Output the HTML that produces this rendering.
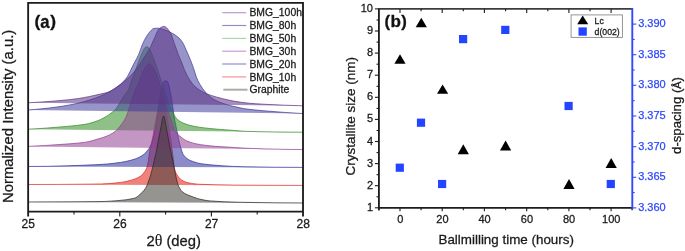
<!DOCTYPE html>
<html lang="en">
<head>
<meta charset="utf-8">
<title>XRD patterns and crystallite size</title>
<style>html,body{margin:0;padding:0;background:#fff;}body{width:685px;height:251px;overflow:hidden;position:relative;font-family:"Liberation Sans",Arial,sans-serif;}</style>
</head>
<body>
<svg width="685" height="251" viewBox="0 0 685 251" style="position:absolute;left:0;top:0;display:block" font-family="'Liberation Sans', Arial, sans-serif">
<rect x="0" y="0" width="685" height="251" fill="#ffffff"/>
<clipPath id="cl"><rect x="28.15" y="2.8" width="274.85" height="208.8"/></clipPath>
<g clip-path="url(#cl)" stroke-linejoin="round">
<path d="M28.30,184.50 L57.30,184.43 L84.80,184.20 L101.30,183.97 L108.80,183.59 L114.30,183.11 L120.80,182.40 L123.80,181.92 L126.80,181.30 L131.30,180.14 L134.80,179.02 L137.80,177.72 L140.30,176.31 L141.80,175.11 L142.80,174.08 L143.80,172.86 L144.80,171.45 L145.80,169.83 L146.30,168.82 L146.80,167.58 L147.60,165.00 L148.30,161.11 L149.60,152.00 L150.30,148.43 L152.80,137.00 L157.30,112.53 L158.20,108.00 L159.30,102.90 L159.80,101.02 L160.20,100.00 L160.80,98.92 L161.30,98.32 L161.60,98.20 L161.80,98.25 L162.30,98.78 L162.80,99.63 L163.30,100.67 L163.80,102.22 L165.80,110.63 L167.80,120.88 L169.30,129.86 L170.80,140.00 L173.00,157.00 L173.80,164.43 L174.40,168.60 L175.30,171.53 L175.80,172.70 L176.80,174.50 L178.30,176.71 L179.30,177.95 L180.80,179.44 L181.80,180.18 L183.30,181.01 L184.80,181.72 L186.30,182.29 L188.30,182.85 L191.30,183.40 L194.30,183.83 L197.30,184.14 L199.80,184.29 L215.80,184.80 L234.30,185.11 L268.80,185.32 L303.00,185.40 Z" fill="rgba(228,28,19,0.55)" stroke="none"/>
<path d="M28.30,184.50 L57.30,184.43 L84.80,184.20 L101.30,183.97 L108.80,183.59 L114.30,183.11 L120.80,182.40 L123.80,181.92 L126.80,181.30 L131.30,180.14 L134.80,179.02 L137.80,177.72 L140.30,176.31 L141.80,175.11 L142.80,174.08 L143.80,172.86 L144.80,171.45 L145.80,169.83 L146.30,168.82 L146.80,167.58 L147.60,165.00 L148.30,161.11 L149.60,152.00 L150.30,148.43 L152.80,137.00 L157.30,112.53 L158.20,108.00 L159.30,102.90 L159.80,101.02 L160.20,100.00 L160.80,98.92 L161.30,98.32 L161.60,98.20 L161.80,98.25 L162.30,98.78 L162.80,99.63 L163.30,100.67 L163.80,102.22 L165.80,110.63 L167.80,120.88 L169.30,129.86 L170.80,140.00 L173.00,157.00 L173.80,164.43 L174.40,168.60 L175.30,171.53 L175.80,172.70 L176.80,174.50 L178.30,176.71 L179.30,177.95 L180.80,179.44 L181.80,180.18 L183.30,181.01 L184.80,181.72 L186.30,182.29 L188.30,182.85 L191.30,183.40 L194.30,183.83 L197.30,184.14 L199.80,184.29 L215.80,184.80 L234.30,185.11 L268.80,185.32 L303.00,185.40" fill="none" stroke="#e02820" stroke-width="0.9" stroke-opacity="0.8"/>
<path d="M28.30,166.50 L47.30,166.33 L67.80,165.82 L81.30,165.33 L95.30,164.72 L102.30,164.37 L107.80,163.95 L113.80,163.31 L120.30,162.46 L124.30,161.78 L127.80,161.03 L131.80,159.99 L135.80,158.73 L138.80,157.48 L141.30,156.12 L143.00,155.00 L144.30,153.99 L145.80,152.58 L147.30,150.87 L148.80,148.80 L149.80,147.19 L151.00,145.00 L151.80,143.05 L152.80,139.75 L154.00,135.00 L155.30,128.58 L156.80,119.81 L158.30,110.20 L160.30,95.00 L161.30,89.37 L162.30,85.04 L162.80,83.28 L163.20,82.30 L163.80,81.28 L164.20,81.00 L167.00,81.00 L167.30,81.16 L167.80,81.92 L168.30,83.05 L168.80,84.90 L170.30,91.78 L171.30,97.38 L173.80,114.50 L174.80,120.65 L178.80,139.89 L180.00,145.00 L181.80,151.15 L182.80,153.78 L183.30,154.72 L184.30,155.97 L185.80,157.52 L186.80,158.37 L188.30,159.42 L189.30,159.99 L190.80,160.71 L193.80,161.85 L197.30,162.91 L200.30,163.59 L202.80,163.98 L209.80,164.75 L222.30,165.82 L233.30,166.44 L244.30,166.79 L275.30,167.25 L303.00,167.40 Z" fill="rgba(46,46,155,0.55)" stroke="none"/>
<path d="M28.30,166.50 L47.30,166.33 L67.80,165.82 L81.30,165.33 L95.30,164.72 L102.30,164.37 L107.80,163.95 L113.80,163.31 L120.30,162.46 L124.30,161.78 L127.80,161.03 L131.80,159.99 L135.80,158.73 L138.80,157.48 L141.30,156.12 L143.00,155.00 L144.30,153.99 L145.80,152.58 L147.30,150.87 L148.80,148.80 L149.80,147.19 L151.00,145.00 L151.80,143.05 L152.80,139.75 L154.00,135.00 L155.30,128.58 L156.80,119.81 L158.30,110.20 L160.30,95.00 L161.30,89.37 L162.30,85.04 L162.80,83.28 L163.20,82.30 L163.80,81.28 L164.20,81.00 L167.00,81.00 L167.30,81.16 L167.80,81.92 L168.30,83.05 L168.80,84.90 L170.30,91.78 L171.30,97.38 L173.80,114.50 L174.80,120.65 L178.80,139.89 L180.00,145.00 L181.80,151.15 L182.80,153.78 L183.30,154.72 L184.30,155.97 L185.80,157.52 L186.80,158.37 L188.30,159.42 L189.30,159.99 L190.80,160.71 L193.80,161.85 L197.30,162.91 L200.30,163.59 L202.80,163.98 L209.80,164.75 L222.30,165.82 L233.30,166.44 L244.30,166.79 L275.30,167.25 L303.00,167.40" fill="none" stroke="#2e2e9b" stroke-width="0.9" stroke-opacity="0.8"/>
<path d="M28.30,129.19 L36.30,128.76 L45.30,128.16 L66.30,126.47 L76.80,125.43 L81.30,124.86 L85.30,124.25 L88.30,123.64 L91.30,122.86 L94.80,121.76 L98.30,120.50 L100.80,119.40 L103.30,118.12 L106.30,116.42 L108.30,115.16 L114.30,110.64 L115.00,110.00 L115.80,109.07 L116.80,107.63 L124.80,94.85 L127.30,91.52 L128.30,89.96 L128.80,89.00 L129.30,87.72 L130.80,82.62 L132.30,78.31 L136.00,68.70 L138.30,62.30 L140.80,56.04 L143.30,50.48 L144.30,48.53 L144.70,48.00 L145.80,46.90 L146.30,46.59 L146.70,46.50 L147.30,46.69 L147.80,47.08 L148.80,48.11 L149.30,48.81 L150.30,50.72 L151.80,54.01 L153.30,57.70 L156.80,67.44 L160.70,79.50 L165.00,92.00 L168.30,102.10 L169.80,106.02 L171.30,109.56 L172.30,111.67 L173.80,114.42 L175.30,116.89 L176.30,118.24 L177.30,119.28 L178.80,120.54 L179.80,121.26 L181.30,122.18 L183.80,123.33 L187.30,124.60 L190.80,125.60 L194.30,126.37 L198.80,127.13 L204.30,127.88 L210.30,128.55 L218.30,129.29 L234.30,130.45 L241.80,131.12 L244.80,131.29 L259.30,131.69 L273.80,131.97 L288.30,132.14 L303.00,132.20 Z" fill="rgba(50,140,37,0.55)" stroke="none"/>
<path d="M28.30,129.19 L36.30,128.76 L45.30,128.16 L66.30,126.47 L76.80,125.43 L81.30,124.86 L85.30,124.25 L88.30,123.64 L91.30,122.86 L94.80,121.76 L98.30,120.50 L100.80,119.40 L103.30,118.12 L106.30,116.42 L108.30,115.16 L114.30,110.64 L115.00,110.00 L115.80,109.07 L116.80,107.63 L124.80,94.85 L127.30,91.52 L128.30,89.96 L128.80,89.00 L129.30,87.72 L130.80,82.62 L132.30,78.31 L136.00,68.70 L138.30,62.30 L140.80,56.04 L143.30,50.48 L144.30,48.53 L144.70,48.00 L145.80,46.90 L146.30,46.59 L146.70,46.50 L147.30,46.69 L147.80,47.08 L148.80,48.11 L149.30,48.81 L150.30,50.72 L151.80,54.01 L153.30,57.70 L156.80,67.44 L160.70,79.50 L165.00,92.00 L168.30,102.10 L169.80,106.02 L171.30,109.56 L172.30,111.67 L173.80,114.42 L175.30,116.89 L176.30,118.24 L177.30,119.28 L178.80,120.54 L179.80,121.26 L181.30,122.18 L183.80,123.33 L187.30,124.60 L190.80,125.60 L194.30,126.37 L198.80,127.13 L204.30,127.88 L210.30,128.55 L218.30,129.29 L234.30,130.45 L241.80,131.12 L244.80,131.29 L259.30,131.69 L273.80,131.97 L288.30,132.14 L303.00,132.20" fill="none" stroke="#328c25" stroke-width="0.9" stroke-opacity="0.8"/>
<path d="M28.30,146.39 L45.80,145.45 L69.30,143.85 L78.30,143.09 L85.80,142.18 L88.80,141.58 L91.80,140.80 L100.30,138.34 L103.80,137.22 L106.80,136.08 L109.30,134.96 L111.80,133.63 L113.80,132.36 L115.30,131.27 L116.80,129.93 L118.30,128.33 L119.80,126.54 L121.80,123.93 L123.30,121.78 L124.80,119.32 L125.80,117.45 L126.80,115.32 L127.80,112.59 L130.30,104.60 L134.30,92.84 L135.80,89.07 L139.20,81.50 L142.30,73.14 L143.80,69.91 L145.30,67.25 L146.80,65.45 L147.80,64.45 L148.30,64.09 L148.80,63.86 L149.20,63.80 L149.80,63.92 L150.80,64.56 L151.80,65.54 L152.80,66.73 L153.80,68.64 L156.30,74.51 L157.80,78.57 L159.80,84.42 L165.80,104.18 L168.30,112.02 L173.30,126.86 L174.30,129.37 L174.80,130.34 L175.80,131.84 L176.80,133.12 L178.30,134.73 L179.80,136.09 L182.30,138.11 L183.80,139.20 L185.30,140.15 L187.00,141.00 L190.30,142.26 L193.30,143.16 L196.30,143.86 L200.80,144.65 L205.30,145.30 L210.30,145.87 L215.80,146.36 L234.30,147.46 L243.30,148.12 L251.80,148.45 L266.30,148.93 L279.30,149.25 L291.30,149.44 L303.00,149.50 Z" fill="rgba(146,64,146,0.55)" stroke="none"/>
<path d="M28.30,146.39 L45.80,145.45 L69.30,143.85 L78.30,143.09 L85.80,142.18 L88.80,141.58 L91.80,140.80 L100.30,138.34 L103.80,137.22 L106.80,136.08 L109.30,134.96 L111.80,133.63 L113.80,132.36 L115.30,131.27 L116.80,129.93 L118.30,128.33 L119.80,126.54 L121.80,123.93 L123.30,121.78 L124.80,119.32 L125.80,117.45 L126.80,115.32 L127.80,112.59 L130.30,104.60 L134.30,92.84 L135.80,89.07 L139.20,81.50 L142.30,73.14 L143.80,69.91 L145.30,67.25 L146.80,65.45 L147.80,64.45 L148.30,64.09 L148.80,63.86 L149.20,63.80 L149.80,63.92 L150.80,64.56 L151.80,65.54 L152.80,66.73 L153.80,68.64 L156.30,74.51 L157.80,78.57 L159.80,84.42 L165.80,104.18 L168.30,112.02 L173.30,126.86 L174.30,129.37 L174.80,130.34 L175.80,131.84 L176.80,133.12 L178.30,134.73 L179.80,136.09 L182.30,138.11 L183.80,139.20 L185.30,140.15 L187.00,141.00 L190.30,142.26 L193.30,143.16 L196.30,143.86 L200.80,144.65 L205.30,145.30 L210.30,145.87 L215.80,146.36 L234.30,147.46 L243.30,148.12 L251.80,148.45 L266.30,148.93 L279.30,149.25 L291.30,149.44 L303.00,149.50" fill="none" stroke="#924092" stroke-width="0.9" stroke-opacity="0.8"/>
<path d="M28.30,109.98 L34.80,109.48 L41.30,108.87 L49.30,107.98 L56.30,107.10 L62.30,106.22 L68.30,105.20 L74.30,104.05 L78.80,103.05 L83.80,101.76 L88.80,100.29 L93.80,98.62 L99.30,96.58 L102.80,95.12 L106.30,93.44 L109.80,91.54 L112.80,89.73 L115.30,88.08 L117.80,86.31 L119.80,84.75 L121.30,83.46 L123.30,81.54 L124.80,79.92 L126.40,78.00 L127.30,76.70 L128.30,74.96 L130.10,71.50 L133.30,64.80 L136.80,58.30 L138.30,55.29 L139.30,53.01 L141.80,46.00 L143.30,42.50 L144.30,40.38 L146.30,36.76 L148.30,33.71 L149.30,32.44 L151.30,30.17 L152.30,29.21 L152.80,28.85 L153.30,28.60 L153.80,28.49 L155.80,28.28 L158.00,28.20 L158.80,28.25 L160.30,28.55 L162.80,29.21 L164.80,29.86 L167.80,31.07 L172.30,33.33 L175.30,35.12 L177.80,36.94 L179.80,38.80 L181.30,40.59 L182.80,42.78 L183.80,44.67 L188.30,54.79 L190.80,60.90 L192.80,66.13 L193.80,68.98 L196.30,76.86 L197.80,80.39 L199.30,83.29 L200.80,85.81 L202.80,88.83 L204.30,90.83 L205.80,92.59 L207.80,94.63 L209.80,96.47 L211.80,98.07 L213.80,99.39 L216.30,100.71 L219.30,102.05 L222.30,103.19 L226.30,104.49 L229.80,105.47 L233.30,106.33 L242.30,108.30 L244.80,108.77 L253.30,109.82 L263.80,110.79 L285.30,112.49 L303.00,113.60 Z" fill="rgba(64,60,155,0.55)" stroke="none"/>
<path d="M28.30,109.98 L34.80,109.48 L41.30,108.87 L49.30,107.98 L56.30,107.10 L62.30,106.22 L68.30,105.20 L74.30,104.05 L78.80,103.05 L83.80,101.76 L88.80,100.29 L93.80,98.62 L99.30,96.58 L102.80,95.12 L106.30,93.44 L109.80,91.54 L112.80,89.73 L115.30,88.08 L117.80,86.31 L119.80,84.75 L121.30,83.46 L123.30,81.54 L124.80,79.92 L126.40,78.00 L127.30,76.70 L128.30,74.96 L130.10,71.50 L133.30,64.80 L136.80,58.30 L138.30,55.29 L139.30,53.01 L141.80,46.00 L143.30,42.50 L144.30,40.38 L146.30,36.76 L148.30,33.71 L149.30,32.44 L151.30,30.17 L152.30,29.21 L152.80,28.85 L153.30,28.60 L153.80,28.49 L155.80,28.28 L158.00,28.20 L158.80,28.25 L160.30,28.55 L162.80,29.21 L164.80,29.86 L167.80,31.07 L172.30,33.33 L175.30,35.12 L177.80,36.94 L179.80,38.80 L181.30,40.59 L182.80,42.78 L183.80,44.67 L188.30,54.79 L190.80,60.90 L192.80,66.13 L193.80,68.98 L196.30,76.86 L197.80,80.39 L199.30,83.29 L200.80,85.81 L202.80,88.83 L204.30,90.83 L205.80,92.59 L207.80,94.63 L209.80,96.47 L211.80,98.07 L213.80,99.39 L216.30,100.71 L219.30,102.05 L222.30,103.19 L226.30,104.49 L229.80,105.47 L233.30,106.33 L242.30,108.30 L244.80,108.77 L253.30,109.82 L263.80,110.79 L285.30,112.49 L303.00,113.60" fill="none" stroke="#403c9b" stroke-width="0.9" stroke-opacity="0.8"/>
<path d="M28.30,102.79 L42.30,101.96 L58.30,100.74 L69.30,99.68 L78.30,98.54 L83.30,97.70 L88.80,96.63 L104.80,93.12 L106.80,92.58 L108.80,91.91 L110.80,91.00 L112.80,89.91 L114.80,88.63 L120.80,84.33 L123.30,82.42 L125.30,80.74 L128.30,77.98 L130.80,75.48 L133.30,72.77 L135.80,69.82 L137.30,67.89 L138.80,65.72 L142.80,59.50 L146.80,53.49 L148.80,50.16 L150.80,46.20 L155.30,36.19 L156.80,32.67 L157.80,30.67 L158.30,29.92 L159.30,28.81 L160.80,27.53 L161.80,27.00 L162.80,26.64 L164.10,26.40 L164.80,26.56 L165.30,26.82 L166.80,27.95 L167.80,29.13 L169.80,31.89 L170.80,33.50 L171.80,35.92 L174.70,44.70 L176.70,50.00 L178.80,55.90 L181.30,61.59 L184.50,70.00 L186.80,74.97 L188.30,77.73 L189.80,80.12 L191.30,82.28 L192.80,84.19 L194.00,85.50 L195.80,87.19 L197.30,88.41 L199.30,89.84 L201.80,91.40 L204.80,92.97 L207.80,94.22 L211.80,95.63 L216.80,97.14 L223.80,98.97 L229.80,100.34 L234.80,101.30 L240.80,102.23 L245.30,102.82 L249.30,103.24 L255.80,103.75 L262.80,104.19 L284.30,105.20 L303.00,105.80 Z" fill="rgba(92,50,132,0.55)" stroke="none"/>
<path d="M28.30,102.79 L42.30,101.96 L58.30,100.74 L69.30,99.68 L78.30,98.54 L83.30,97.70 L88.80,96.63 L104.80,93.12 L106.80,92.58 L108.80,91.91 L110.80,91.00 L112.80,89.91 L114.80,88.63 L120.80,84.33 L123.30,82.42 L125.30,80.74 L128.30,77.98 L130.80,75.48 L133.30,72.77 L135.80,69.82 L137.30,67.89 L138.80,65.72 L142.80,59.50 L146.80,53.49 L148.80,50.16 L150.80,46.20 L155.30,36.19 L156.80,32.67 L157.80,30.67 L158.30,29.92 L159.30,28.81 L160.80,27.53 L161.80,27.00 L162.80,26.64 L164.10,26.40 L164.80,26.56 L165.30,26.82 L166.80,27.95 L167.80,29.13 L169.80,31.89 L170.80,33.50 L171.80,35.92 L174.70,44.70 L176.70,50.00 L178.80,55.90 L181.30,61.59 L184.50,70.00 L186.80,74.97 L188.30,77.73 L189.80,80.12 L191.30,82.28 L192.80,84.19 L194.00,85.50 L195.80,87.19 L197.30,88.41 L199.30,89.84 L201.80,91.40 L204.80,92.97 L207.80,94.22 L211.80,95.63 L216.80,97.14 L223.80,98.97 L229.80,100.34 L234.80,101.30 L240.80,102.23 L245.30,102.82 L249.30,103.24 L255.80,103.75 L262.80,104.19 L284.30,105.20 L303.00,105.80" fill="none" stroke="#5c3284" stroke-width="0.9" stroke-opacity="0.8"/>
<path d="M28.30,202.00 L75.80,201.83 L100.30,201.60 L105.80,201.43 L110.80,201.14 L116.30,200.72 L122.80,200.14 L126.80,199.67 L130.30,199.09 L133.30,198.42 L135.80,197.69 L136.80,197.15 L138.30,195.95 L142.30,192.25 L143.80,190.61 L145.30,188.61 L146.30,186.94 L147.30,184.72 L148.30,182.12 L149.80,177.81 L150.80,174.50 L152.30,168.90 L155.80,153.88 L156.80,148.95 L158.80,138.00 L161.20,126.00 L162.30,119.74 L162.80,117.81 L163.30,116.33 L163.60,116.00 L163.80,116.15 L164.30,117.47 L164.80,119.28 L166.00,126.00 L170.80,151.50 L173.70,165.00 L175.80,176.06 L177.30,182.29 L177.80,184.07 L178.70,186.50 L180.30,189.30 L181.30,190.65 L182.30,191.71 L183.00,192.30 L184.30,193.19 L185.80,194.02 L187.80,194.92 L193.30,197.11 L197.30,198.48 L199.80,199.15 L204.30,200.11 L207.30,200.61 L209.80,200.88 L216.80,201.37 L224.30,201.77 L240.30,202.31 L274.30,202.83 L303.00,203.00 Z" fill="rgba(64,60,55,0.55)" stroke="none"/>
<path d="M28.30,202.00 L75.80,201.83 L100.30,201.60 L105.80,201.43 L110.80,201.14 L116.30,200.72 L122.80,200.14 L126.80,199.67 L130.30,199.09 L133.30,198.42 L135.80,197.69 L136.80,197.15 L138.30,195.95 L142.30,192.25 L143.80,190.61 L145.30,188.61 L146.30,186.94 L147.30,184.72 L148.30,182.12 L149.80,177.81 L150.80,174.50 L152.30,168.90 L155.80,153.88 L156.80,148.95 L158.80,138.00 L161.20,126.00 L162.30,119.74 L162.80,117.81 L163.30,116.33 L163.60,116.00 L163.80,116.15 L164.30,117.47 L164.80,119.28 L166.00,126.00 L170.80,151.50 L173.70,165.00 L175.80,176.06 L177.30,182.29 L177.80,184.07 L178.70,186.50 L180.30,189.30 L181.30,190.65 L182.30,191.71 L183.00,192.30 L184.30,193.19 L185.80,194.02 L187.80,194.92 L193.30,197.11 L197.30,198.48 L199.80,199.15 L204.30,200.11 L207.30,200.61 L209.80,200.88 L216.80,201.37 L224.30,201.77 L240.30,202.31 L274.30,202.83 L303.00,203.00" fill="none" stroke="#2a2826" stroke-width="0.9" stroke-opacity="0.8"/>
</g>
<g stroke="#1c1c1c" stroke-width="1.85" fill="none">
<path d="M28.15,216.5 L28.15,2.8 L303.0,2.8 L303.0,216.5" stroke-linejoin="miter"/>
<path d="M28.15,211.6 L303.0,211.6"/>
</g>
<g stroke="#1c1c1c" stroke-width="1.1">
<line x1="119.8" y1="211.6" x2="119.8" y2="216.5"/>
<line x1="211.4" y1="211.6" x2="211.4" y2="216.5"/>
<line x1="74.0" y1="211.6" x2="74.0" y2="214.6"/>
<line x1="165.6" y1="211.6" x2="165.6" y2="214.6"/>
<line x1="257.2" y1="211.6" x2="257.2" y2="214.6"/>
</g>
<g font-size="12" fill="#1a1a1a" stroke="#1a1a1a" stroke-width="0.28" text-anchor="middle">
<text x="28.3" y="228.2">25</text>
<text x="120.0" y="228.2">26</text>
<text x="211.6" y="228.2">27</text>
<text x="303.2" y="228.2">28</text>
</g>
<text x="173.7" y="245.7" font-size="14.8" fill="#1a1a1a" stroke="#1a1a1a" stroke-width="0.28" text-anchor="middle">2<tspan font-family="'Liberation Serif', 'DejaVu Serif', serif" font-size="16.0" stroke-width="0.15">θ</tspan> (deg)</text>
<text transform="translate(13.1,116.4) rotate(-90)" font-size="14.85" fill="#1a1a1a" stroke="#1a1a1a" stroke-width="0.28" text-anchor="middle">Normalized Intensity (a.u.)</text>
<g font-weight="bold" fill="#111" stroke="#111" stroke-width="0.3"><text x="34.6" y="26.8" font-size="17.4">(</text><text x="40.3" y="28" font-size="18.6" textLength="9.3" lengthAdjust="spacingAndGlyphs">a</text><text x="50.2" y="26.8" font-size="17.4">)</text></g>
<line x1="222.2" y1="12.7" x2="246.3" y2="12.7" stroke="#be96d2" stroke-width="1.15"/>
<text x="249.4" y="16.4" font-size="10.4" fill="#1a1a1a" stroke="#1a1a1a" stroke-width="0.28">BMG_100h</text>
<line x1="222.2" y1="25.5" x2="246.3" y2="25.5" stroke="#8c8cc8" stroke-width="1.15"/>
<text x="249.4" y="29.2" font-size="10.4" fill="#1a1a1a" stroke="#1a1a1a" stroke-width="0.28">BMG_80h</text>
<line x1="222.2" y1="38.4" x2="246.3" y2="38.4" stroke="#aad7a5" stroke-width="1.15"/>
<text x="249.4" y="42.1" font-size="10.4" fill="#1a1a1a" stroke="#1a1a1a" stroke-width="0.28">BMG_50h</text>
<line x1="222.2" y1="51.2" x2="246.3" y2="51.2" stroke="#cd96cd" stroke-width="1.15"/>
<text x="249.4" y="54.9" font-size="10.4" fill="#1a1a1a" stroke="#1a1a1a" stroke-width="0.28">BMG_30h</text>
<line x1="222.2" y1="64.0" x2="246.3" y2="64.0" stroke="#8c8ccd" stroke-width="1.15"/>
<text x="249.4" y="67.7" font-size="10.4" fill="#1a1a1a" stroke="#1a1a1a" stroke-width="0.28">BMG_20h</text>
<line x1="222.2" y1="76.9" x2="246.3" y2="76.9" stroke="#fa8c8c" stroke-width="1.15"/>
<text x="249.4" y="80.6" font-size="10.4" fill="#1a1a1a" stroke="#1a1a1a" stroke-width="0.28">BMG_10h</text>
<line x1="223.3" y1="89.7" x2="247.5" y2="89.7" stroke="#afaca5" stroke-width="2.0"/>
<text x="249.4" y="93.4" font-size="10.4" fill="#1a1a1a" stroke="#1a1a1a" stroke-width="0.28">Graphite</text>
<g stroke="#1c1c1c" stroke-width="1.85" fill="none">
<path d="M378.9,210.45 L378.9,8.0"/>
<path d="M378.0,8.9 L632.3,8.9" stroke="#3c3c3c" stroke-width="1.6"/>
<path d="M378.2,207.85 L632.3,207.85"/>
<path d="M632.0999999999999,207.85 L632.0999999999999,210.25" stroke-width="1.3"/>
</g>
<path d="M632.3,8.0 L632.3,208.75" stroke="#3048ff" stroke-width="1.9" fill="none"/>
<g stroke="#1c1c1c" stroke-width="1.1">
<line x1="374.9" y1="207.8" x2="378.9" y2="207.8"/>
<line x1="376.5" y1="196.8" x2="378.9" y2="196.8"/>
<line x1="374.9" y1="185.7" x2="378.9" y2="185.7"/>
<line x1="376.5" y1="174.7" x2="378.9" y2="174.7"/>
<line x1="374.9" y1="163.6" x2="378.9" y2="163.6"/>
<line x1="376.5" y1="152.6" x2="378.9" y2="152.6"/>
<line x1="374.9" y1="141.5" x2="378.9" y2="141.5"/>
<line x1="376.5" y1="130.5" x2="378.9" y2="130.5"/>
<line x1="374.9" y1="119.4" x2="378.9" y2="119.4"/>
<line x1="376.5" y1="108.4" x2="378.9" y2="108.4"/>
<line x1="374.9" y1="97.3" x2="378.9" y2="97.3"/>
<line x1="376.5" y1="86.3" x2="378.9" y2="86.3"/>
<line x1="374.9" y1="75.2" x2="378.9" y2="75.2"/>
<line x1="376.5" y1="64.2" x2="378.9" y2="64.2"/>
<line x1="374.9" y1="53.1" x2="378.9" y2="53.1"/>
<line x1="376.5" y1="42.1" x2="378.9" y2="42.1"/>
<line x1="374.9" y1="31.0" x2="378.9" y2="31.0"/>
<line x1="376.5" y1="20.0" x2="378.9" y2="20.0"/>
<line x1="374.9" y1="8.9" x2="378.9" y2="8.9"/>
<line x1="400.0" y1="207.85" x2="400.0" y2="211.25"/>
<line x1="400.0" y1="8.9" x2="400.0" y2="12.9"/>
<line x1="421.1" y1="207.85" x2="421.1" y2="210.15"/>
<line x1="421.1" y1="8.9" x2="421.1" y2="11.3"/>
<line x1="442.2" y1="207.85" x2="442.2" y2="211.25"/>
<line x1="442.2" y1="8.9" x2="442.2" y2="12.9"/>
<line x1="463.3" y1="207.85" x2="463.3" y2="210.15"/>
<line x1="463.3" y1="8.9" x2="463.3" y2="11.3"/>
<line x1="484.4" y1="207.85" x2="484.4" y2="211.25"/>
<line x1="484.4" y1="8.9" x2="484.4" y2="12.9"/>
<line x1="505.6" y1="207.85" x2="505.6" y2="210.15"/>
<line x1="505.6" y1="8.9" x2="505.6" y2="11.3"/>
<line x1="526.7" y1="207.85" x2="526.7" y2="211.25"/>
<line x1="526.7" y1="8.9" x2="526.7" y2="12.9"/>
<line x1="547.8" y1="207.85" x2="547.8" y2="210.15"/>
<line x1="547.8" y1="8.9" x2="547.8" y2="11.3"/>
<line x1="568.9" y1="207.85" x2="568.9" y2="211.25"/>
<line x1="568.9" y1="8.9" x2="568.9" y2="12.9"/>
<line x1="590.0" y1="207.85" x2="590.0" y2="210.15"/>
<line x1="590.0" y1="8.9" x2="590.0" y2="11.3"/>
<line x1="611.1" y1="207.85" x2="611.1" y2="211.25"/>
<line x1="611.1" y1="8.9" x2="611.1" y2="12.9"/>
</g>
<g stroke="#3048ff" stroke-width="1.1">
<line x1="632.3" y1="207.9" x2="636.3" y2="207.9"/>
<line x1="632.3" y1="192.6" x2="634.6999999999999" y2="192.6"/>
<line x1="632.3" y1="177.3" x2="636.3" y2="177.3"/>
<line x1="632.3" y1="162.0" x2="634.6999999999999" y2="162.0"/>
<line x1="632.3" y1="146.7" x2="636.3" y2="146.7"/>
<line x1="632.3" y1="131.3" x2="634.6999999999999" y2="131.3"/>
<line x1="632.3" y1="116.0" x2="636.3" y2="116.0"/>
<line x1="632.3" y1="100.7" x2="634.6999999999999" y2="100.7"/>
<line x1="632.3" y1="85.3" x2="636.3" y2="85.3"/>
<line x1="632.3" y1="70.0" x2="634.6999999999999" y2="70.0"/>
<line x1="632.3" y1="54.7" x2="636.3" y2="54.7"/>
<line x1="632.3" y1="39.4" x2="634.6999999999999" y2="39.4"/>
<line x1="632.3" y1="24.1" x2="636.3" y2="24.1"/>
</g>
<g font-size="11" fill="#1a1a1a" stroke="#1a1a1a" stroke-width="0.28" text-anchor="end">
<text x="373.0" y="210.8">1</text>
<text x="373.0" y="188.7">2</text>
<text x="373.0" y="166.6">3</text>
<text x="373.0" y="144.5">4</text>
<text x="373.0" y="122.4">5</text>
<text x="373.0" y="100.3">6</text>
<text x="373.0" y="78.2">7</text>
<text x="373.0" y="56.1">8</text>
<text x="373.0" y="34.0">9</text>
<text x="373.0" y="11.9">10</text>
</g>
<g font-size="11" fill="#1a1a1a" stroke="#1a1a1a" stroke-width="0.28" text-anchor="middle">
<text x="400.2" y="223.1">0</text>
<text x="442.4" y="223.1">20</text>
<text x="484.6" y="223.1">40</text>
<text x="526.9" y="223.1">60</text>
<text x="569.1" y="223.1">80</text>
<text x="611.3" y="223.1">100</text>
</g>
<g font-size="11" fill="#3048ff" stroke="#3048ff" stroke-width="0.25">
<text x="638.2" y="210.9">3.360</text>
<text x="638.2" y="180.3">3.365</text>
<text x="638.2" y="149.7">3.370</text>
<text x="638.2" y="119.0">3.375</text>
<text x="638.2" y="88.3">3.380</text>
<text x="638.2" y="57.7">3.385</text>
<text x="638.2" y="27.1">3.390</text>
</g>
<text x="506.2" y="243.5" font-size="13.4" fill="#1a1a1a" stroke="#1a1a1a" stroke-width="0.28" text-anchor="middle">Ballmilling time (hours)</text>
<text transform="translate(355.2,116.2) rotate(-90)" font-size="13.5" fill="#1a1a1a" stroke="#1a1a1a" stroke-width="0.28" text-anchor="middle">Crystallite size (nm)</text>
<text transform="translate(681,115.5) rotate(-90)" font-size="13.2" fill="#1a1a1a" stroke="#1a1a1a" stroke-width="0.28" text-anchor="middle">d-spacing (<tspan font-size="10.9">Å</tspan>)</text>
<g font-weight="bold" fill="#111" stroke="#111" stroke-width="0.3"><text x="384.6" y="26.5" font-size="16.7">(</text><text x="390.6" y="26.8" font-size="17.1">b</text><text x="401.3" y="26.5" font-size="16.7">)</text></g>
<path d="M394.4,63.8 L405.6,63.8 L400.0,54.3 Z" fill="#000"/>
<path d="M415.7,27.2 L426.9,27.2 L421.3,17.8 Z" fill="#000"/>
<path d="M437.0,93.8 L448.2,93.8 L442.6,84.5 Z" fill="#000"/>
<path d="M457.7,154.2 L468.9,154.2 L463.3,144.3 Z" fill="#000"/>
<path d="M500.0,150.5 L511.2,150.5 L505.6,140.6 Z" fill="#000"/>
<path d="M563.4,188.9 L574.6,188.9 L569.0,179.0 Z" fill="#000"/>
<path d="M605.6,167.9 L616.8,167.9 L611.2,158.0 Z" fill="#000"/>
<rect x="395.7" y="163.6" width="8.2" height="8.2" fill="#2444ff"/>
<rect x="416.9" y="118.6" width="8.2" height="8.2" fill="#2444ff"/>
<rect x="438.0" y="179.9" width="8.2" height="8.2" fill="#2444ff"/>
<rect x="459.0" y="35.0" width="8.2" height="8.2" fill="#2444ff"/>
<rect x="501.2" y="25.8" width="8.2" height="8.2" fill="#2444ff"/>
<rect x="564.5" y="101.9" width="8.2" height="8.2" fill="#2444ff"/>
<rect x="606.7" y="179.9" width="8.2" height="8.2" fill="#2444ff"/>
<rect x="571.1" y="14.9" width="51.3" height="22.5" fill="#fff" stroke="#8a8a8a" stroke-width="0.9"/>
<path d="M577.2,24.3 L588.2,24.3 L582.7,15.4 Z" fill="#000"/>
<rect x="578.5" y="27.4" width="8.3" height="8.3" fill="#2444ff"/>
<text x="594.6" y="24" font-size="8.7" fill="#1a1a1a" stroke="#1a1a1a" stroke-width="0.28">Lc</text>
<text x="594.6" y="34.6" font-size="8.7" fill="#1a1a1a" stroke="#1a1a1a" stroke-width="0.28">d(002)</text>
</svg>
</body>
</html>
